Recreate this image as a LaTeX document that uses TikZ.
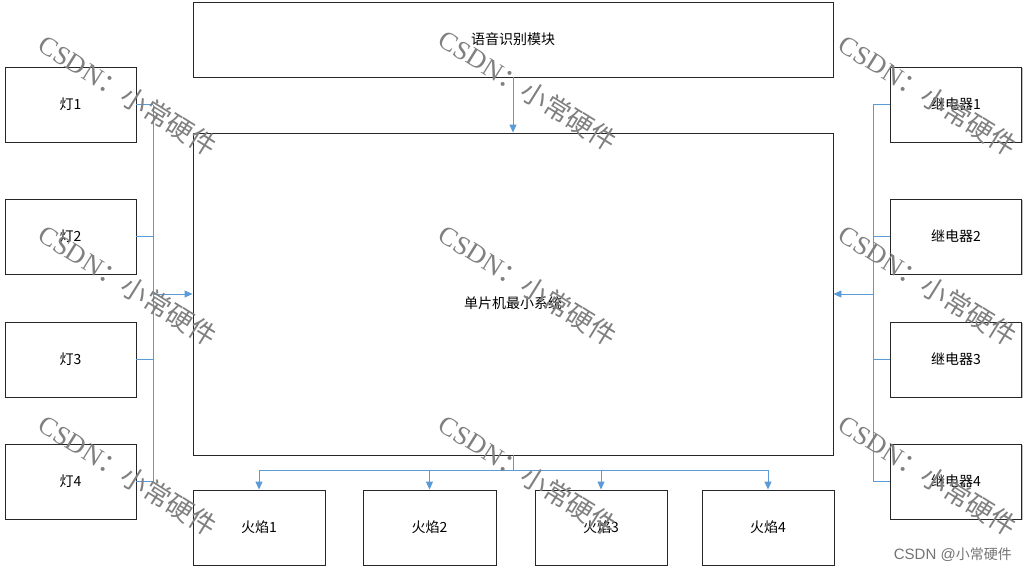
\documentclass[tikz,border=0pt]{standalone}
\usepackage{fontspec}
\setmainfont{Liberation Sans}
\newfontfamily\cjk{Noto Sans CJK SC}
\newfontfamily\wmserif{Liberation Serif}
\usetikzlibrary{arrows.meta,shadows}
\definecolor{linkblue}{HTML}{5B9BD5}
\tikzset{
  box/.style={draw=black!85, line width=0.9pt, fill=white, inner sep=0pt,
    minimum width=131pt, minimum height=75pt, font=\cjk\fontsize{14}{16}\selectfont,
    drop shadow={shadow xshift=1.2pt, shadow yshift=-1.2pt, opacity=0.25, fill=black}},
  link/.style={draw=linkblue, line width=0.9pt},
  arr/.style={link, -{Triangle[length=8pt,width=7pt]}},
  wm/.style={text=black!50, rotate=-32, font=\fontsize{26.5}{28}\selectfont, inner sep=0pt}
}
\begin{document}
\begin{tikzpicture}[x=1pt,y=-1pt]
\useasboundingbox (0,0) rectangle (1028,573);
% main blocks
\node[box, minimum width=640pt, minimum height=75pt] (voice) at (513,39.5) {语音识别模块};
\node[box, minimum width=640pt, minimum height=322pt] (mcu) at (513,294) {\raisebox{-14pt}[0pt][0pt]{单片机最小系统}};
% lights
\node[box] (l1) at (70.5,104.5) {灯1};
\node[box] (l2) at (70.5,236.5) {灯2};
\node[box] (l3) at (70.5,359.5) {灯3};
\node[box] (l4) at (70.5,481.5) {灯4};
% relays
\node[box] (r1) at (956,104.5) {继电器1};
\node[box] (r2) at (956,236.5) {继电器2};
\node[box] (r3) at (956,359.5) {继电器3};
\node[box] (r4) at (956,481.5) {继电器4};
% flames
\node[box, minimum width=132pt] (f1) at (259,527.5) {火焰1};
\node[box, minimum width=133pt] (f2) at (429.5,527.5) {火焰2};
\node[box, minimum width=132pt] (f3) at (601,527.5) {火焰3};
\node[box, minimum width=132pt] (f4) at (768,527.5) {火焰4};
% top connector
\draw[arr] (voice.south) -- (mcu.north);
% left bus
\draw[link] (l1.east) -- ++(17,0) coordinate (jl1);
\draw[link] (l2.east) -- ++(17,0) coordinate (jl2);
\draw[link] (l3.east) -- ++(17,0) coordinate (jl3);
\draw[link] (l4.east) -- ++(17,0) coordinate (jl4);
\draw[link] (jl1) -- (jl4);
\draw[arr] (jl1 |- mcu.west) -- (mcu.west);
% right bus
\draw[link] (r1.west) -- ++(-17,0) coordinate (jr1);
\draw[link] (r2.west) -- ++(-17,0) coordinate (jr2);
\draw[link] (r3.west) -- ++(-17,0) coordinate (jr3);
\draw[link] (r4.west) -- ++(-17,0) coordinate (jr4);
\draw[link] (jr1) -- (jr4);
\draw[arr] (jr1 |- mcu.east) -- (mcu.east);
% bottom bus
\draw[link] (mcu.south) -- ++(0,15) coordinate (jb);
\draw[link] (f1.north |- jb) -- (f4.north |- jb);
\draw[arr] (f1.north |- jb) -- (f1.north);
\draw[arr] (f2.north |- jb) -- (f2.north);
\draw[arr] (f3.north |- jb) -- (f3.north);
\draw[arr] (f4.north |- jb) -- (f4.north);
% watermarks
\foreach \wx/\wy [count=\i] in {128/95, 128/285, 128/475, 528/90, 528/285, 528/475, 928/95, 928/285, 928/475}{
  \node[wm] (wm\i) at (\wx,\wy) {{\wmserif CSDN}{\cjk ：小常硬件}};
}
\node[text=black!55, font=\fontsize{15}{17}\selectfont, anchor=east, inner sep=0pt] (sig) at (1012,555) {CSDN @{\cjk\fontsize{14}{17}\selectfont 小常硬件}};
\end{tikzpicture}
\end{document}
